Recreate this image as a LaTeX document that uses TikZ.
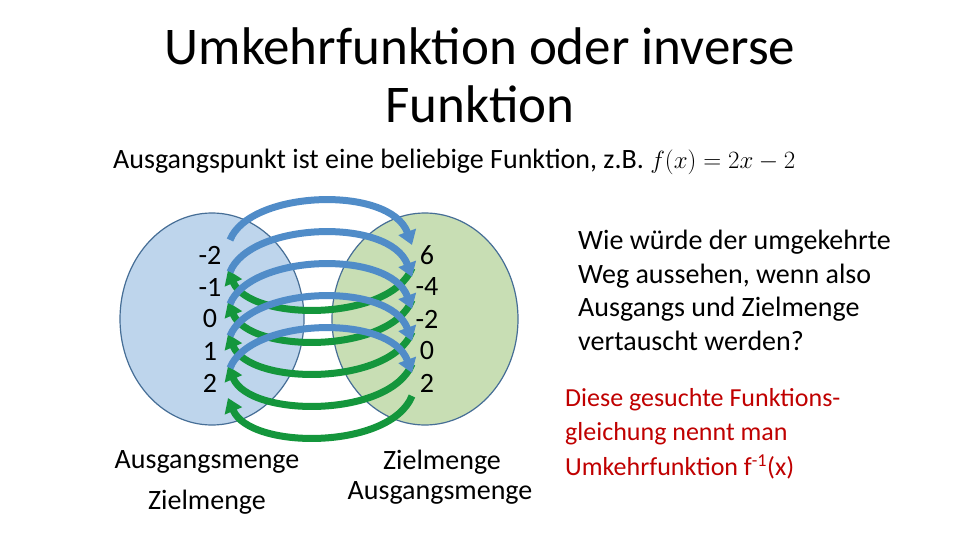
\documentclass[tikz,border=0pt]{standalone}
\usepackage{fontspec}
\setmainfont{Carlito}
\usetikzlibrary{arrows.meta}
\definecolor{lb}{RGB}{190,213,236}
\definecolor{lg}{RGB}{200,222,180}
\definecolor{edge}{RGB}{70,110,150}
\definecolor{ba}{RGB}{80,140,200}
\definecolor{ga}{RGB}{20,150,60}
\definecolor{rt}{RGB}{192,0,0}
\tikzset{
 set/.style={draw=edge,line width=1.2pt},
 num/.style={font=\fontsize{28}{28}\selectfont,inner sep=0pt},
 lab/.style={font=\fontsize{28}{32}\selectfont,inner sep=0pt},
 barrow/.style={draw=ba,line width=7pt,-{Triangle[length=14pt,width=18pt]}},
 garrow/.style={draw=ga,line width=7pt,-{Triangle[length=14pt,width=18pt]}},
}
\begin{document}
\begin{tikzpicture}[x=1pt,y=-1pt]
\useasboundingbox (0,0) rectangle (960,540);
\fill[white] (0,0) rectangle (960,540);
\fill[lb] (212,319) ellipse [x radius=92,y radius=106];
\fill[lg] (425,319) ellipse [x radius=93,y radius=106];
\draw[set] (212,319) ellipse [x radius=92,y radius=106];
\draw[set] (425,319) ellipse [x radius=93,y radius=106];
\node[font=\fontsize{53}{58}\selectfont,align=center] (title) at (480,75) {Umkehrfunktion oder inverse\\Funktion};
\node[lab,anchor=west] (sub) at (113,162) {Ausgangspunkt ist eine beliebige Funktion, z.B. $f(x)=2x-2$};
\foreach \i/\a/\b in {0/-2/6,1/-1/-4,2/0/-2,3/1/0,4/2/2}{
  \node[num] (l\i) at (210,255+32*\i) {\a};
  \node[num] (r\i) at (427,255+32*\i) {\b};
}
\foreach \i in {0,...,4}{
  \coordinate (bs\i) at (230,240+32*\i);
  \coordinate (be\i) at (412,245+32*\i);
  \coordinate (gs\i) at (412,268+32*\i);
  \coordinate (ge\i) at (228,270+32*\i);
  \draw[barrow] (bs\i) .. controls (250,190+32*\i) and (390,185+32*\i) .. (be\i);
  \draw[garrow] (gs\i) .. controls (390,322+32*\i) and (250,322+32*\i) .. (ge\i);
}
\node[lab] (a1) at (207,462) {Ausgangsmenge};
\node[lab] (z1) at (207,502) {Zielmenge};
\node[lab] (z2) at (442,462) {Zielmenge};
\node[lab] (a2) at (440,493) {Ausgangsmenge};
\node[lab,anchor=north west,align=left,font=\fontsize{28}{33.5}\selectfont] (q) at (578,230) {Wie würde der umgekehrte\\Weg aussehen, wenn also\\Ausgangs und Zielmenge\\vertauscht werden?};
\node[lab,anchor=north west,align=left,text=rt,font=\fontsize{26}{34.5}\selectfont] (ans) at (565,388) {Diese gesuchte Funktions-\\gleichung nennt man\\Umkehrfunktion f\textsuperscript{-1}(x)};
\end{tikzpicture}
\end{document}
